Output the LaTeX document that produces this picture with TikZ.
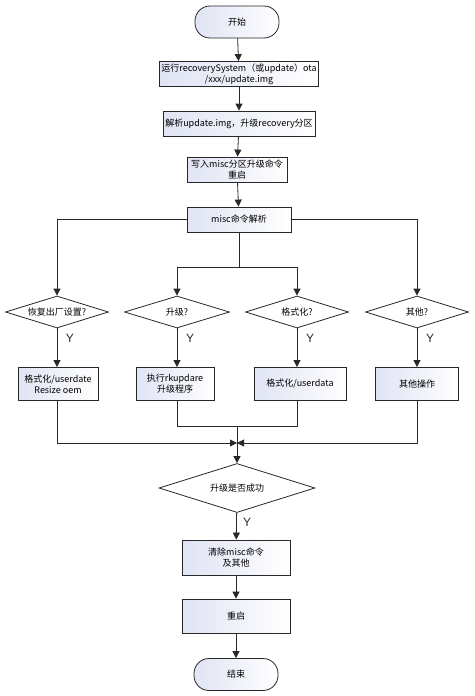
\documentclass[tikz,border=0pt]{standalone}
\usepackage{fontspec}
\setmainfont{Noto Sans CJK SC}
\newfontfamily\yfont{Liberation Sans}
\usepackage{tikz}
\usetikzlibrary{shapes.geometric}
\usetikzlibrary{arrows.meta}
\definecolor{boxleft}{RGB}{224,228,244}
\definecolor{linegray}{RGB}{40,40,40}

\begin{document}
\begin{tikzpicture}[x=1pt,y=1pt,
  font=\fontsize{9}{11}\selectfont,
  line width=0.8pt,
  proc/.style={rectangle,draw=linegray,left color=boxleft,right color=white,align=center,inner sep=2pt},
  term/.style={rectangle,rounded corners=15pt,draw=linegray,left color=boxleft,right color=white,minimum width=84,minimum height=32},
  cond/.style={diamond,draw=linegray,fill=white,inner sep=0pt,minimum width=103,minimum height=32,label=center:{#1}},
  flow/.style={draw=linegray,-{Triangle[length=7pt,width=7pt]}},
  yes/.style={font=\yfont\fontsize{12}{14}\selectfont,text=linegray}]
\useasboundingbox (0,0) rectangle (474,-696);
%main column
\path (237,-22) node(a)[term]{开始}
(239,-74) node(b)[proc,minimum width=159,minimum height=25]{运行recoverySystem（或update）ota\\/xxx/update.img}
(239,-123.5) node(c)[proc,minimum width=152,minimum height=25]{解析update.img，升级recovery分区}
(237,-169.5) node(d)[proc,minimum width=100,minimum height=25]{写入misc分区升级命令\\重启}
(239,-219.5) node(e)[proc,minimum width=104,minimum height=25]{misc命令解析};
%four branches
\path (57,-312) node(f1)[cond=恢复出厂设置?]{}
(177,-312) node(f2)[cond=升级?,minimum width=105]{}
(297,-312) node(f3)[cond=格式化?]{}
(417,-312) node(f4)[cond=其他?]{};
\path (58,-384) node(g1)[proc,minimum width=80,minimum height=33]{格式化/userdate\\Resize oem}
(175,-384) node(g2)[proc,minimum width=78,minimum height=33]{执行rkupdare\\升级程序}
(300,-384) node(g3)[proc,minimum width=92,minimum height=33]{格式化/userdata}
(417,-384) node(g4)[proc,minimum width=83,minimum height=33]{其他操作};
\coordinate (s) at (237,-267);
\coordinate (j) at (237,-426);
\coordinate (m) at (237,-443);
%bottom part
\path (237,-488) node(h)[cond=升级是否成功,minimum width=156,minimum height=49]{}
(236,-557.5) node(k)[proc,minimum width=108,minimum height=35]{清除misc命令\\及其他}
(236,-616) node(l)[proc,minimum width=108,minimum height=34]{重启}
(236,-674.5) node(n)[term]{结束};
\draw[flow](a)--(b);
\draw[flow](b)--(c);
\draw[flow](c)--(d);
\draw[flow](d)--(e);
\draw[flow](e.west)-|(f1.north);
\draw[flow](e.east)-|(f4.north);
\draw[linegray](e.south)--(e.south|-s);
\draw[flow](s)-|(f2.north);
\draw[flow](s)-|(f3.north);
\draw[flow](f1.south)--(f1.south|-g1.north);
\draw[flow](f2.south)--(f2.south|-g2.north);
\draw[flow](f3.south)--(f3.south|-g3.north);
\draw[flow](f4.south)--(f4.south|-g4.north);
\draw (70,-338)node[yes]{Y};
\draw (190,-338)node[yes]{Y};
\draw (310,-338)node[yes]{Y};
\draw (430,-338)node[yes]{Y};
\draw[flow](f1.south|-g1.south)|-(m);
\draw[flow](f4.south|-g4.south)|-(m);
\draw[linegray](f2.south|-g2.south)|-(j);
\draw[linegray](f3.south|-g3.south)|-(j);
\draw[flow](j)--(h.north);
\draw[flow](h)--(k);
\draw (247,-522)node[yes]{Y};
\draw[flow](k)--(l);
\draw[flow](l)--(n);
\end{tikzpicture}
\end{document}
